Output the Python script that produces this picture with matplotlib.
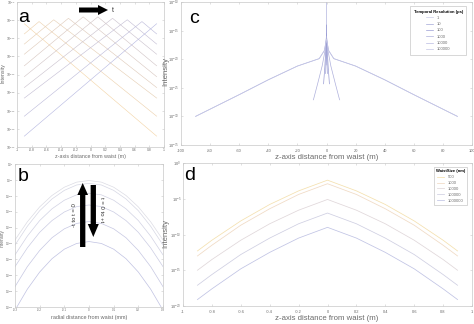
import matplotlib
matplotlib.use("Agg")
import matplotlib.pyplot as plt
import numpy as np
from matplotlib.patches import FancyArrow
from matplotlib.transforms import IdentityTransform
from matplotlib.ticker import FixedLocator, NullLocator, LogFormatterMathtext
from matplotlib.colors import to_rgb

plt.rcParams["font.family"] = ["Liberation Sans", "DejaVu Sans"]

W, H = 474, 324

# ── panel a: on-axis intensity vs z for successive times (log10 values) ──
a_peak_z = [-0.9, -0.7, -0.5, -0.3, -0.1, 0.1, 0.3, 0.5, 0.7, 0.9]
a_peak = [-11.0, -10.4, -9.9, -9.5, -9.1, -9.1, -9.5, -9.9, -10.4, -11.0]
a_left = [-11.0, -13.8, -16.6, -19.4, -22.6, -25.6, -28.6, -31.5, -36.5, -42.0]
a_right = [-42.0, -36.5, -31.5, -28.6, -25.6, -22.6, -19.4, -16.6, -13.8, -11.0]

# ── panel b: radial profiles, half profile from r=0 to r=0.3 mm (mirrored) ──
b_r = [0.0, 0.05, 0.10, 0.15, 0.20, 0.25, 0.30]
b_profiles = [
    [-5.2, -5.7, -7.3, -9.9, -13.5, -18.2, -23.9],
    [-6.1, -6.6, -8.3, -11.0, -14.7, -19.6, -25.5],
    [-9.2, -9.7, -11.4, -14.1, -17.8, -22.7, -28.6],
    [-12.9, -13.4, -15.1, -17.8, -21.5, -26.4, -32.3],
    [-18.1, -18.7, -20.4, -23.2, -27.2, -32.3, -38.6],
    [-24.4, -25.0, -26.8, -29.8, -34.0, -39.4, -46.0],
]

# ── panel c: temporal resolution series (half profiles, mirrored) ──
c_labels = ["1", "10", "100", "1000", "10000", "100000"]
c_z = [
    [0, 0.1, 0.3],
    [0, 0.2, 0.6],
    [0, 0.5, 1.2, 2.0],
    [0, 1, 3, 6, 9],
    [0, 1.5, 5, 20, 40, 60, 90],
    [0, 1.5, 5, 20, 40, 60, 90],
]
c_vals = [
    [-10.0, -17.0, -21.0],
    [-14.0, -19.0, -22.5],
    [-15.5, -18.5, -21.5, -24.3],
    [-16.0, -18.5, -21.2, -24.2, -27.1],
    [-16.5, -18.5, -19.9, -21.2, -23.6, -26.2, -30.0],
    [-16.5, -18.5, -19.9, -21.2, -23.6, -26.2, -30.0],
]

# ── panel d: waist size series, half profile from z=0 to 0.9 m (mirrored) ──
d_labels = ["500", "1000", "10000", "100000", "1000000"]
d_z = [0.0, 0.2, 0.4, 0.6, 0.8, 0.9]
d_vals = [
    [-2.4, -3.9, -5.8, -8.1, -10.8, -12.3],
    [-2.9, -4.4, -6.4, -8.7, -11.5, -13.0],
    [-5.1, -6.6, -8.5, -10.8, -13.5, -15.0],
    [-7.0, -8.5, -10.5, -12.8, -15.6, -17.1],
    [-9.0, -10.5, -12.5, -14.8, -17.6, -19.1],
]

SPINE = "#c8c8c8"
TXT = "#6a6a6a"


def px_rect(l, t, r, b):
    return [l / W, 1 - b / H, (r - l) / W, (b - t) / H]


def mirror(x, v):
    x = np.asarray(x, float)
    v = np.asarray(v, float)
    return np.concatenate([-x[:0:-1], x]), np.concatenate([v[:0:-1], v])


def blend(c1, c2, n):
    a, b = np.array(to_rgb(c1)), np.array(to_rgb(c2))
    return [tuple(a + (b - a) * i / max(n - 1, 1)) for i in range(n)]


def style(ax, xticks, yexps, fs, xpad=1, ypad=1):
    ax.set_yscale("log")
    ax.yaxis.set_major_locator(FixedLocator([10.0 ** e for e in yexps]))
    ax.yaxis.set_minor_locator(NullLocator())
    ax.yaxis.set_major_formatter(LogFormatterMathtext())
    ax.set_xticks(xticks)
    ax.set_xticklabels([f"{t:g}" for t in xticks])
    ax.tick_params(which="both", direction="in", length=1.5, width=0.4,
                   labelsize=fs, colors=SPINE, labelcolor=TXT,
                   top=True, right=True)
    ax.tick_params(axis="x", pad=xpad)
    ax.tick_params(axis="y", pad=ypad)
    for s in ax.spines.values():
        s.set_color(SPINE)
        s.set_linewidth(0.5)


fig = plt.figure(figsize=(W / 100, H / 100), dpi=100)
fig.patch.set_facecolor("white")

# ── a ──
ax_a = fig.add_axes(px_rect(17, 2, 164, 147))
cols_a = blend("#f3d3a4", "#b4b6e0", len(a_peak))
for i in range(len(a_peak)):
    zs = [-0.9, a_peak_z[i], 0.9]
    vs = [a_left[i], a_peak[i], a_right[i]]
    ax_a.plot(zs, 10.0 ** np.array(vs), color=cols_a[i], lw=0.4)
style(ax_a, [-1, -0.8, -0.6, -0.4, -0.2, 0, 0.2, 0.4, 0.6, 0.8, 1],
      range(-45, -4, 5), 2.4)
ax_a.set_xlim(-1, 1)
ax_a.set_ylim(1e-45, 1e-5)

# ── b ──
ax_b = fig.add_axes(px_rect(15, 164, 163, 307))
cols_b = blend("#dcdce4", "#c0c2e2", len(b_profiles))
for i, prof in enumerate(b_profiles):
    r, v = mirror(b_r, prof)
    ax_b.plot(r, 10.0 ** v, color=cols_b[i], lw=0.5)
style(ax_b, [-0.3, -0.2, -0.1, 0, 0.1, 0.2, 0.3], range(-45, 1, 5), 2.1)
ax_b.set_xlim(-0.3, 0.3)
ax_b.set_ylim(1e-45, 1e0)

# ── c ──
ax_c = fig.add_axes(px_rect(181, 2, 472, 145))
cols_c = ["#c9cbe8", "#a3a6d8", "#9a9dd4", "#aeb0dc", "#b9bbe1", "#c3c5e5"]
for i, lab in enumerate(c_labels):
    z, v = mirror(c_z[i], c_vals[i])
    ax_c.plot(z, 10.0 ** v, color=cols_c[i], lw=0.5, label=lab)
style(ax_c, list(range(-100, 101, 20)), range(-35, -9, 5), 2.9, xpad=3.2, ypad=1.2)
ax_c.set_xlim(-100, 100)
ax_c.set_ylim(1e-35, 1e-10)
leg = ax_c.legend(title="Temporal Resolution (ps)", loc="upper right",
                  bbox_to_anchor=(0.987, 0.985), fontsize=3.0,
                  title_fontsize=3.0, handlelength=1.6, labelspacing=0.55,
                  borderpad=0.8, fancybox=False, edgecolor=SPINE,
                  framealpha=1)
leg.get_title().set_fontweight("bold")
leg.get_frame().set_linewidth(0.5)
for t in leg.get_texts():
    t.set_color(TXT)

# ── d ──
ax_d = fig.add_axes(px_rect(183, 163, 472, 306))
cols_d = ["#f4e0ae", "#f0dac4", "#e0d7da", "#cfcfe2", "#c0c3e4"]
for i, lab in enumerate(d_labels):
    z, v = mirror(d_z, d_vals[i])
    ax_d.plot(z, 10.0 ** v, color=cols_d[i], lw=0.55, label=lab)
style(ax_d, [-1, -0.8, -0.6, -0.4, -0.2, 0, 0.2, 0.4, 0.6, 0.8, 1],
      range(-20, 1, 5), 2.9, xpad=2.6, ypad=1.2)
ax_d.set_xlim(-1, 1)
ax_d.set_ylim(1e-20, 1e0)
leg = ax_d.legend(title="WaistSize (nm)", loc="upper right",
                  bbox_to_anchor=(0.99, 0.985), fontsize=3.0,
                  title_fontsize=3.0, handlelength=1.6, labelspacing=0.45,
                  borderpad=0.5, fancybox=False, edgecolor=SPINE,
                  framealpha=1)
leg.get_title().set_fontweight("bold")
leg.get_frame().set_linewidth(0.5)
for t in leg.get_texts():
    t.set_color(TXT)


def ftext(x, y_img, s, **kw):
    fig.text(x / W, 1 - y_img / H, s, **kw)


# axis labels
ftext(3, 73, "Intensity", rotation=90, ha="center", va="center", fontsize=3.8, color=TXT)
ftext(2.2, 238, "Intensity", rotation=90, ha="center", va="center", fontsize=3.4, color=TXT)
ftext(166, 72, "Intensity", rotation=90, ha="center", va="center", fontsize=5.6, color=TXT)
ftext(166, 234, "Intensity", rotation=90, ha="center", va="center", fontsize=5.6, color=TXT)
ftext(90, 157, "z-axis distance from waist (m)", ha="center", va="center", fontsize=3.8, color=TXT)
ftext(89, 317, "radial distance from waist (mm)", ha="center", va="center", fontsize=4.0, color=TXT)
ftext(327, 158, "z-axis distance from waist (m)", ha="center", va="center", fontsize=5.6, color=TXT)
ftext(327, 318, "z-axis distance from waist (m)", ha="center", va="center", fontsize=5.6, color=TXT)

# panel letters
for x, y, s in [(18, 22, "a"), (18, 181, "b"), (189, 23, "c"), (184, 180, "d")]:
    ftext(x, y, s, fontsize=14, ha="left", va="baseline", color="black")

# arrows (pixel coordinates, origin bottom-left)
ident = IdentityTransform()
arrow_kw = dict(length_includes_head=True, color="black", transform=ident, lw=0)
fig.add_artist(FancyArrow(79, 314, 29, 0, width=5, head_width=10, head_length=10, **arrow_kw))
fig.add_artist(FancyArrow(82.7, 77, 0, 64, width=5.3, head_width=10.7, head_length=12, **arrow_kw))
fig.add_artist(FancyArrow(93.3, 139, 0, -52, width=5.3, head_width=11, head_length=13, **arrow_kw))
ftext(112, 10, "t", fontsize=5, ha="left", va="center", color="#333333")
ftext(75, 215, "-t to t = 0", rotation=90, ha="center", va="center", fontsize=4.3, color="#333333")
ftext(101, 210, "t = 0 to +t", rotation=-90, ha="center", va="center", fontsize=4.3, color="#333333")

fig.savefig("out.png", dpi=100)
